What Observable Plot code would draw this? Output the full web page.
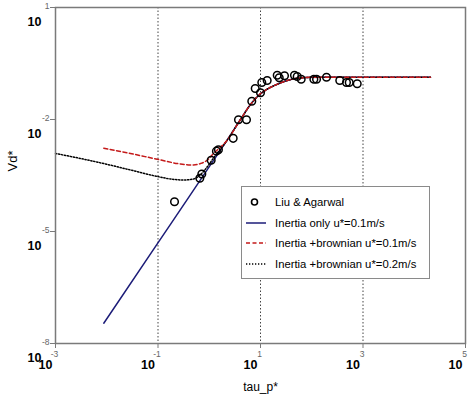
<!DOCTYPE html>
<html><head><meta charset="utf-8">
<script src="https://cdn.jsdelivr.net/npm/d3@7"></script>
<script src="https://cdn.jsdelivr.net/npm/@observablehq/plot@0.6"></script>
<style>
body{margin:0;background:#fff;font-family:Arial,"Liberation Sans",sans-serif;}
#wrap{position:relative;width:474px;height:399px;}
#legend{position:absolute;left:241px;top:186px;width:187px;height:91px;border:1px solid #8a8a8a;background:#fff;}
.row{position:absolute;left:0;height:20px;display:flex;align-items:center;font-size:11.3px;color:#000;white-space:nowrap;}
.row svg{margin-left:4px;margin-right:9px;}
</style></head><body><div id="wrap"></div>
<script>
// Axis ticks
const xTicks = [1e-3, 1e-1, 1e1, 1e3, 1e5];
const xExp = ["-3", "-1", "1", "3", "5"];
const yTicks = [1e1, 1e-2, 1e-5, 1e-8];
const yExp = ["1", "-2", "-5", "-8"];
const gridX = [1e-1, 1e1, 1e3];

// Inertia only u*=0.1m/s
const inertiaTau = [8.75e-3, 0.102, 0.431, 1.057, 2.07, 4.07, 6.38, 9.14, 13.1, 19.6, 30.8, 48.2, 75.5, 148, 2.07e4];
const inertiaVd  = [3.49e-8, 5.19e-6, 9.73e-5, 6.08e-4, 2.39e-3, 1.0e-2, 2.52e-2, 4.40e-2, 6.35e-2, 8.39e-2, 0.107, 0.125, 0.133, 0.136, 0.136];

// Inertia + brownian u*=0.1m/s
const brown1Tau = [8.75e-3, 2.90e-2, 0.102, 0.275, 0.493, 0.675, 0.925, 1.21, 1.58, 2.07, 4.07, 6.38, 9.14, 13.1, 19.6, 30.8, 48.2, 75.5, 148, 2.07e4];
const brown1Vd  = [1.70e-3, 1.23e-3, 8.47e-4, 6.43e-4, 6.04e-4, 6.62e-4, 8.22e-4, 1.23e-3, 1.70e-3, 2.45e-3, 1.0e-2, 2.52e-2, 4.40e-2, 6.35e-2, 8.39e-2, 0.107, 0.125, 0.133, 0.136, 0.136];

// Inertia + brownian u*=0.2m/s
const brown2Tau = [1e-3, 3.08e-3, 9.46e-3, 2.90e-2, 9.77e-2, 0.175, 0.315, 0.493, 0.675, 0.925, 1.21, 2.07, 4.07, 6.38, 9.14, 13.1, 19.6, 30.8, 48.2, 75.5, 148, 2.07e4];
const brown2Vd  = [1.23e-3, 9.02e-4, 6.43e-4, 4.44e-4, 2.97e-4, 2.55e-4, 2.39e-4, 2.55e-4, 3.36e-4, 5.51e-4, 9.30e-4, 2.39e-3, 1.0e-2, 2.52e-2, 4.40e-2, 6.35e-2, 8.39e-2, 0.107, 0.125, 0.133, 0.136, 0.136];

// Liu & Agarwal experimental points
const liuTau = [0.210, 0.655, 0.716, 1.09, 1.38, 1.51, 2.93, 3.72, 5.33, 6.76, 7.89, 10.0, 10.6, 13.5, 21.2, 23.2, 29.4, 46.0, 52.0, 62.2, 110, 124, 194, 352, 476, 538, 771];
const liuVd  = [6.24e-5, 2.66e-4, 3.47e-4, 8.13e-4, 1.42e-3, 1.54e-3, 3.13e-3, 9.82e-3, 9.82e-3, 3.09e-2, 6.76e-2, 5.19e-2, 9.79e-2, 0.111, 0.153, 0.131, 0.148, 0.153, 0.142, 0.120, 0.120, 0.120, 0.136, 0.111, 0.098, 0.098, 0.0904];

const zip = (a, b) => a.map((t, i) => ({tau: t, vd: b[i]}));
const inertia = zip(inertiaTau, inertiaVd);
const brown1 = zip(brown1Tau, brown1Vd);
const brown2 = zip(brown2Tau, brown2Vd);
const liu = zip(liuTau, liuVd);

const axisGray = "#7a7a7a";
const chart = Plot.plot({
  width: 474, height: 399,
  marginLeft: 55, marginRight: 9, marginTop: 7, marginBottom: 56,
  x: {type: "log", domain: [1e-3, 1e5], label: null},
  y: {type: "log", domain: [1e-8, 1e1], label: null},
  style: {background: "#fff", fontFamily: "Arial, 'Liberation Sans', sans-serif", overflow: "visible"},
  marks: [
    Plot.ruleX(gridX, {stroke: "#444", strokeDasharray: "1.5,2", strokeWidth: 1}),
    Plot.line(inertia, {x: "tau", y: "vd", stroke: "#1c1c78", strokeWidth: 1.5, curve: "monotone-x"}),
    Plot.line(brown2, {x: "tau", y: "vd", stroke: "#000", strokeWidth: 1.5, strokeDasharray: "1.3,1.7", curve: "monotone-x"}),
    Plot.line(brown1, {x: "tau", y: "vd", stroke: "#c41a1a", strokeWidth: 1.5, strokeDasharray: "4,2.5", curve: "monotone-x"}),
    Plot.dot(liu, {x: "tau", y: "vd", r: 3.8, stroke: "#000", strokeWidth: 1.5, fill: "none"}),
    Plot.frame({stroke: axisGray, strokeWidth: 1.5}),
    Plot.axisX({ticks: xTicks, tickFormat: () => "", tickSize: 5, stroke: axisGray, label: null}),
    Plot.axisY({ticks: yTicks, tickFormat: () => "", tickSize: 5, stroke: axisGray, label: null}),
    Plot.text(xTicks, {x: d => d, frameAnchor: "bottom", dy: 13.5, dx: -1, text: (d, i) => xExp[i], fontSize: 8.5, fill: "#666"}),
    Plot.text(xTicks, {x: d => d, frameAnchor: "bottom", dy: 25.5, dx: -3, textAnchor: "end", text: () => "10", fontSize: 12.5, fontWeight: "bold", fill: "#000"}),
    Plot.text(yTicks, {y: d => d, frameAnchor: "left", dx: -6, dy: -1, textAnchor: "end", text: (d, i) => yExp[i], fontSize: 8.5, fill: "#666"}),
    Plot.text(yTicks, {y: d => d, frameAnchor: "left", dx: -14, dy: 14, textAnchor: "end", text: () => "10", fontSize: 12.5, fontWeight: "bold", fill: "#000"}),
    Plot.text(["tau_p*"], {frameAnchor: "bottom", dy: 47, text: d => d, fontSize: 12, fill: "#000"}),
    Plot.text(["Vd*"], {frameAnchor: "left", dx: -43, dy: -4, rotate: -90, text: d => d, fontSize: 13, fill: "#000"})
  ]
});
const wrap = document.getElementById("wrap");
wrap.appendChild(chart);

// Legend
const legendItems = [
  {label: "Liu & Agarwal", kind: "dot"},
  {label: "Inertia only u*=0.1m/s", kind: "line", color: "#1c1c78", dash: ""},
  {label: "Inertia +brownian u*=0.1m/s", kind: "line", color: "#c41a1a", dash: "4,2.5"},
  {label: "Inertia +brownian u*=0.2m/s", kind: "line", color: "#000", dash: "1.3,1.7"}
];
const legend = document.createElement("div");
legend.id = "legend";
const rowTops = [5, 26, 46, 67];
legendItems.forEach((it, i) => {
  const row = document.createElement("div");
  row.className = "row";
  row.style.top = rowTops[i] + "px";
  const sw = it.kind === "dot"
    ? `<svg width="20" height="12"><circle cx="8.5" cy="6" r="3" fill="none" stroke="#000" stroke-width="1.6"/></svg>`
    : `<svg width="20" height="12"><line x1="0" x2="20" y1="6" y2="6" stroke="${it.color}" stroke-width="1.5" ${it.dash ? `stroke-dasharray="${it.dash}"` : ""}/></svg>`;
  row.innerHTML = sw + `<span>${it.label.replace(/&/g, "&amp;")}</span>`;
  legend.appendChild(row);
});
wrap.appendChild(legend);
</script>
</body></html>
